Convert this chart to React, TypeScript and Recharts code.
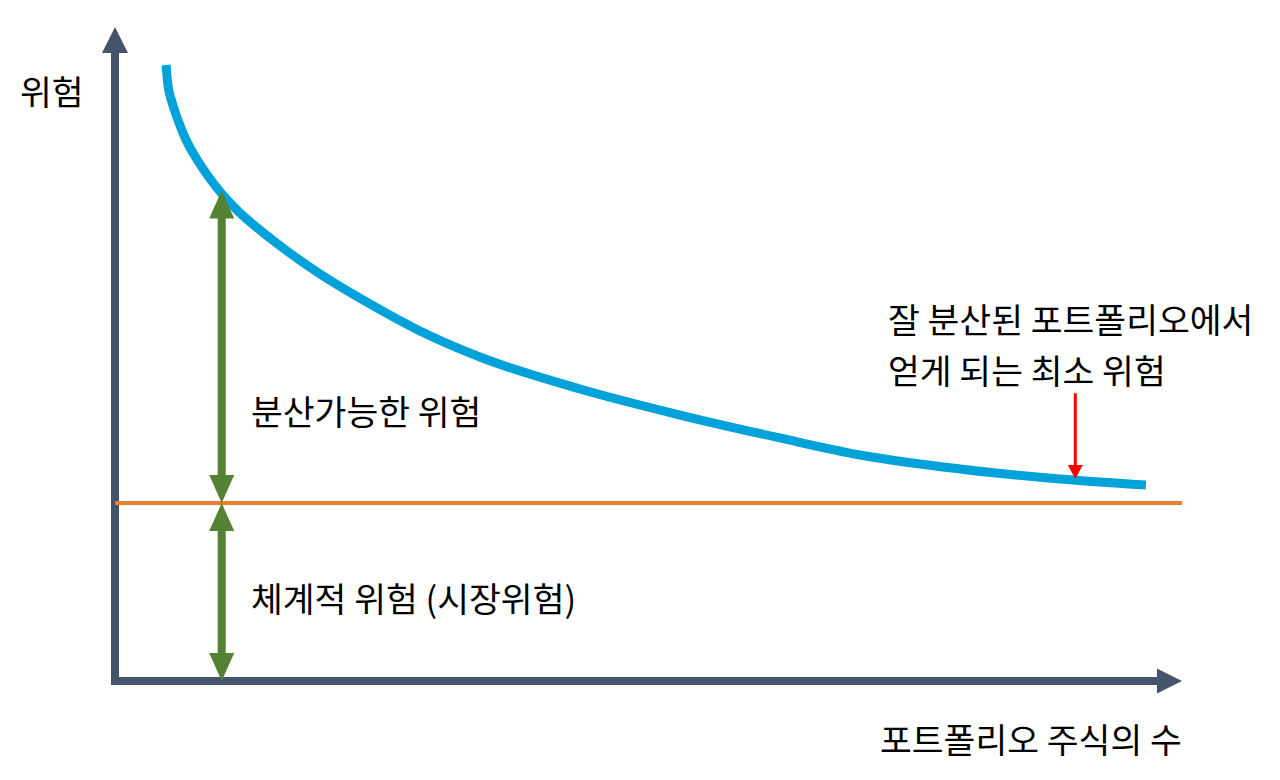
import React from 'react';
import {
  ComposedChart,
  Line,
  XAxis,
  YAxis,
  ReferenceLine,
  Customized,
} from 'recharts';

// ---- data (x = number of stocks in portfolio, y = risk) ----
const numStocks = [2.39, 2.48, 2.67, 2.95, 3.33, 3.8, 4.36, 4.97, 5.76, 6.79, 7.87, 9.61, 11.62, 14.29, 17.1, 21.79, 26.48, 31.16, 34.91, 39.6, 44.28, 48.31];
const totalRisk = [94.19, 91.13, 88.53, 85.78, 82.72, 79.97, 77.22, 74.62, 71.87, 68.96, 66.21, 62.23, 58.26, 53.52, 49.54, 44.65, 40.67, 37.16, 34.56, 32.42, 30.89, 29.97];
const systematicRisk = 27.2;
const arrowStockCount = 5;
const arrowTopRisk = 75.0;
const minRiskStockCount = 45;
const minRiskArrowFrom = 44.0;
const minRiskArrowTo = 30.9;

const xDomain: [number, number] = [0, 50];
const yDomain: [number, number] = [0, 100];

const labels = {
  yAxis: '위험',
  xAxis: '포트폴리오 주식의 수',
  diversifiable: '분산가능한 위험',
  systematic: '체계적 위험 (시장위험)',
  minRisk1: '잘 분산된 포트폴리오에서',
  minRisk2: '얻게 되는 최소 위험',
};

const chartData = numStocks.map((x, i) => ({ x, risk: totalRisk[i] }));

const AXIS = '#44546A';
const BLUE = '#00A2D9';
const ORANGE = '#ED7D31';
const GREEN = '#548235';
const RED = '#FF0000';
const FONT = "'Noto Sans CJK KR', 'Noto Sans', sans-serif";

type ArrowOpts = {
  color: string;
  width: number;
  headW: number;
  headL: number;
  start?: boolean;
  end?: boolean;
  startExtend?: number;
};

const arrowShape = (o: ArrowOpts) => (p: any) => {
  const { x1, y1, x2, y2 } = p;
  const dx = x2 - x1;
  const dy = y2 - y1;
  const len = Math.hypot(dx, dy) || 1;
  const ux = dx / len;
  const uy = dy / len;
  const nx = -uy;
  const ny = ux;
  let sx = x1 - ux * (o.startExtend || 0);
  let sy = y1 - uy * (o.startExtend || 0);
  let ex = x2;
  let ey = y2;
  if (o.start) {
    sx = x1 + ux * o.headL * 0.6;
    sy = y1 + uy * o.headL * 0.6;
  }
  if (o.end) {
    ex = x2 - ux * o.headL * 0.6;
    ey = y2 - uy * o.headL * 0.6;
  }
  const head = (tx: number, ty: number, dx2: number, dy2: number) => {
    const bx = tx - dx2 * o.headL;
    const by = ty - dy2 * o.headL;
    const pts = [
      [tx, ty],
      [bx + nx * o.headW / 2, by + ny * o.headW / 2],
      [bx - nx * o.headW / 2, by - ny * o.headW / 2],
    ]
      .map((q) => q.join(','))
      .join(' ');
    return <polygon points={pts} fill={o.color} />;
  };
  return (
    <g>
      <line x1={sx} y1={sy} x2={ex} y2={ey} stroke={o.color} strokeWidth={o.width} />
      {o.start ? head(x1, y1, -ux, -uy) : null}
      {o.end ? head(x2, y2, ux, uy) : null}
    </g>
  );
};

const Texts = () => (
  <g fontFamily={FONT} fontSize={34.6} fill="#000">
    <text x={20} y={90} dominantBaseline="central">{labels.yAxis}</text>
    <text x={251} y={410} dominantBaseline="central">{labels.diversifiable}</text>
    <text x={251} y={597} dominantBaseline="central">{labels.systematic}</text>
    <text x={888} y={318} dominantBaseline="central">{labels.minRisk1}</text>
    <text x={888} y={369} dominantBaseline="central">{labels.minRisk2}</text>
    <text x={880} y={738} dominantBaseline="central">{labels.xAxis}</text>
  </g>
);

export default function App() {
  return (
    <div style={{ position: 'absolute', left: 0, top: 0, width: 1280, height: 780, background: '#fff' }}>
      <ComposedChart
        width={1280}
        height={780}
        data={chartData}
        margin={{ top: 27, right: 98, bottom: 99, left: 115 }}
      >
        <XAxis dataKey="x" type="number" domain={xDomain} hide allowDataOverflow />
        <YAxis type="number" domain={yDomain} hide allowDataOverflow />
        <ReferenceLine
          segment={[{ x: 0, y: 0 }, { x: 0, y: yDomain[1] }]}
          ifOverflow="visible"
          shape={arrowShape({ color: AXIS, width: 8, headW: 26, headL: 26, end: true, startExtend: 4 })}
        />
        <ReferenceLine
          segment={[{ x: 0, y: 0 }, { x: xDomain[1], y: 0 }]}
          ifOverflow="visible"
          shape={arrowShape({ color: AXIS, width: 8, headW: 25, headL: 25, end: true, startExtend: 4 })}
        />
        <ReferenceLine y={systematicRisk} stroke={ORANGE} strokeWidth={4} ifOverflow="visible" />
        <Line
          dataKey="risk"
          type="monotone"
          stroke={BLUE}
          strokeWidth={9}
          dot={false}
          activeDot={false}
          isAnimationActive={false}
        />
        <ReferenceLine
          segment={[{ x: arrowStockCount, y: systematicRisk }, { x: arrowStockCount, y: arrowTopRisk }]}
          ifOverflow="visible"
          shape={arrowShape({ color: GREEN, width: 8, headW: 25, headL: 28, start: true, end: true })}
        />
        <ReferenceLine
          segment={[{ x: arrowStockCount, y: 0 }, { x: arrowStockCount, y: systematicRisk }]}
          ifOverflow="visible"
          shape={arrowShape({ color: GREEN, width: 8, headW: 25, headL: 28, start: true, end: true })}
        />
        <ReferenceLine
          segment={[{ x: minRiskStockCount, y: minRiskArrowFrom }, { x: minRiskStockCount, y: minRiskArrowTo }]}
          ifOverflow="visible"
          shape={arrowShape({ color: RED, width: 3, headW: 15, headL: 14, end: true })}
        />
        <Customized component={Texts} />
      </ComposedChart>
    </div>
  );
}
